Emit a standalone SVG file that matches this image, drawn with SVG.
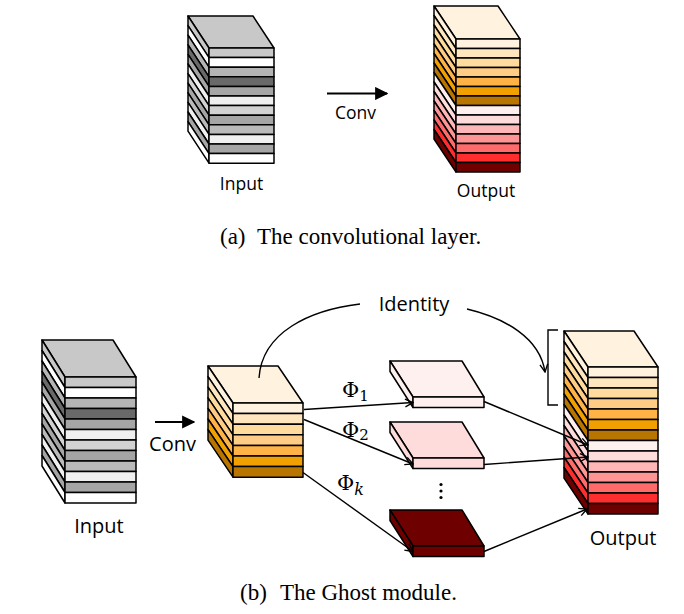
<svg xmlns="http://www.w3.org/2000/svg" width="684" height="614" viewBox="0 0 684 614">
<style>
.s{stroke:#000;stroke-width:1.5;stroke-linejoin:round}
.lbl{font-family:"Open Sans","DejaVu Sans",sans-serif;fill:#000;text-anchor:middle}
.cap{font-family:"Liberation Serif","Times New Roman",serif;font-size:23px;fill:#000}
.phi{font-family:"DejaVu Serif","Liberation Serif",serif;font-size:21px;fill:#000}
.c{fill:none;stroke:#000;stroke-width:1.4}
.g0{fill:#c8c8c8}.g1{fill:#ffffff}.g2{fill:#b4b4b4}.g3{fill:#696969}.g4{fill:#a6a6a6}.g5{fill:#efefef}
.g6{fill:#d2d2d2}.g7{fill:#a5a5a5}.g8{fill:#bababa}.g9{fill:#f0f0f0}
.o0{fill:#fff3e0}.o1{fill:#ffe6bf}.o2{fill:#ffdc9e}.o3{fill:#ffcc85}.o4{fill:#ffb347}.o5{fill:#f0a000}.o6{fill:#b87600}
.r0{fill:#fff0f0}.r1{fill:#ffdcdc}.r2{fill:#ffb6b6}.r3{fill:#ff9494}.r4{fill:#ff6b6b}.r5{fill:#ff2e2e}.r6{fill:#6e0000}
</style>
<defs>
<marker id="fa" viewBox="0 0 10 10" refX="9" refY="5" markerWidth="6" markerHeight="6" markerUnits="strokeWidth" orient="auto">
<path d="M0,0 L10,5 L0,10 Z" fill="#000"/>
</marker>
<marker id="oa" viewBox="0 0 10 10" refX="9" refY="5" markerWidth="7" markerHeight="7" markerUnits="strokeWidth" orient="auto">
<path d="M1,1 L9,5 L1,9" fill="none" stroke="#000" stroke-width="1.4"/>
</marker>
</defs>

<g id="a-input">
<g class="s">
<polygon class="g0" points="188,16 253,16 274,48 209,48"/>
<polygon class="g0" points="209,48 209,57.6 188,25.6 188,16"/>
<polygon class="g1" points="209,57.6 209,67.2 188,35.2 188,25.6"/>
<polygon class="g2" points="209,67.2 209,76.8 188,44.8 188,35.2"/>
<polygon class="g3" points="209,76.8 209,86.4 188,54.4 188,44.8"/>
<polygon class="g4" points="209,86.4 209,96 188,64 188,54.4"/>
<polygon class="g5" points="209,96 209,105.6 188,73.6 188,64"/>
<polygon class="g6" points="209,105.6 209,115.2 188,83.2 188,73.6"/>
<polygon class="g7" points="209,115.2 209,124.8 188,92.8 188,83.2"/>
<polygon class="g8" points="209,124.8 209,134.4 188,102.4 188,92.8"/>
<polygon class="g9" points="209,134.4 209,144 188,112 188,102.4"/>
<polygon class="g7" points="209,144 209,153.6 188,121.6 188,112"/>
<polygon class="g1" points="209,153.6 209,163.2 188,131.2 188,121.6"/>
<rect class="g0" x="209" y="48" width="65" height="9.6"/>
<rect class="g1" x="209" y="57.6" width="65" height="9.6"/>
<rect class="g2" x="209" y="67.2" width="65" height="9.6"/>
<rect class="g3" x="209" y="76.8" width="65" height="9.6"/>
<rect class="g4" x="209" y="86.4" width="65" height="9.6"/>
<rect class="g5" x="209" y="96" width="65" height="9.6"/>
<rect class="g6" x="209" y="105.6" width="65" height="9.6"/>
<rect class="g7" x="209" y="115.2" width="65" height="9.6"/>
<rect class="g8" x="209" y="124.8" width="65" height="9.6"/>
<rect class="g9" x="209" y="134.4" width="65" height="9.6"/>
<rect class="g7" x="209" y="144" width="65" height="9.6"/>
<rect class="g1" x="209" y="153.6" width="65" height="9.6"/>
</g>
<text class="lbl" x="241.5" y="190" font-size="17.5">Input</text>
</g>

<g id="a-output">
<g class="s">
<polygon class="o0" points="434,6 498,6 520,39 456,39"/>
<polygon class="o0" points="456,39 456,48.5 434,15.5 434,6"/>
<polygon class="o1" points="456,48.5 456,58 434,25 434,15.5"/>
<polygon class="o2" points="456,58 456,67.5 434,34.5 434,25"/>
<polygon class="o3" points="456,67.5 456,77 434,44 434,34.5"/>
<polygon class="o4" points="456,77 456,86.5 434,53.5 434,44"/>
<polygon class="o5" points="456,86.5 456,96 434,63 434,53.5"/>
<polygon class="o6" points="456,96 456,105.5 434,72.5 434,63"/>
<polygon class="r0" points="456,105.5 456,115 434,82 434,72.5"/>
<polygon class="r1" points="456,115 456,124.5 434,91.5 434,82"/>
<polygon class="r2" points="456,124.5 456,134 434,101 434,91.5"/>
<polygon class="r3" points="456,134 456,143.5 434,110.5 434,101"/>
<polygon class="r4" points="456,143.5 456,153 434,120 434,110.5"/>
<polygon class="r5" points="456,153 456,162.5 434,129.5 434,120"/>
<polygon class="r6" points="456,162.5 456,172 434,139 434,129.5"/>
<rect class="o0" x="456" y="39" width="64" height="9.5"/>
<rect class="o1" x="456" y="48.5" width="64" height="9.5"/>
<rect class="o2" x="456" y="58" width="64" height="9.5"/>
<rect class="o3" x="456" y="67.5" width="64" height="9.5"/>
<rect class="o4" x="456" y="77" width="64" height="9.5"/>
<rect class="o5" x="456" y="86.5" width="64" height="9.5"/>
<rect class="o6" x="456" y="96" width="64" height="9.5"/>
<rect class="r0" x="456" y="105.5" width="64" height="9.5"/>
<rect class="r1" x="456" y="115" width="64" height="9.5"/>
<rect class="r2" x="456" y="124.5" width="64" height="9.5"/>
<rect class="r3" x="456" y="134" width="64" height="9.5"/>
<rect class="r4" x="456" y="143.5" width="64" height="9.5"/>
<rect class="r5" x="456" y="153" width="64" height="9.5"/>
<rect class="r6" x="456" y="162.5" width="64" height="9.5"/>
</g>
<text class="lbl" x="486" y="196.5" font-size="17.5">Output</text>
</g>

<g id="b-input">
<g class="s">
<polygon class="g0" points="42,340 113,340 136,377 65,377"/>
<polygon class="g0" points="65,377 65,387.5 42,350.5 42,340"/>
<polygon class="g1" points="65,387.5 65,398 42,361 42,350.5"/>
<polygon class="g2" points="65,398 65,408.5 42,371.5 42,361"/>
<polygon class="g3" points="65,408.5 65,419 42,382 42,371.5"/>
<polygon class="g4" points="65,419 65,429.5 42,392.5 42,382"/>
<polygon class="g5" points="65,429.5 65,440 42,403 42,392.5"/>
<polygon class="g6" points="65,440 65,450.5 42,413.5 42,403"/>
<polygon class="g7" points="65,450.5 65,461 42,424 42,413.5"/>
<polygon class="g8" points="65,461 65,471.5 42,434.5 42,424"/>
<polygon class="g9" points="65,471.5 65,482 42,445 42,434.5"/>
<polygon class="g7" points="65,482 65,492.5 42,455.5 42,445"/>
<polygon class="g1" points="65,492.5 65,503 42,466 42,455.5"/>
<rect class="g0" x="65" y="377" width="71" height="10.5"/>
<rect class="g1" x="65" y="387.5" width="71" height="10.5"/>
<rect class="g2" x="65" y="398" width="71" height="10.5"/>
<rect class="g3" x="65" y="408.5" width="71" height="10.5"/>
<rect class="g4" x="65" y="419" width="71" height="10.5"/>
<rect class="g5" x="65" y="429.5" width="71" height="10.5"/>
<rect class="g6" x="65" y="440" width="71" height="10.5"/>
<rect class="g7" x="65" y="450.5" width="71" height="10.5"/>
<rect class="g8" x="65" y="461" width="71" height="10.5"/>
<rect class="g9" x="65" y="471.5" width="71" height="10.5"/>
<rect class="g7" x="65" y="482" width="71" height="10.5"/>
<rect class="g1" x="65" y="492.5" width="71" height="10.5"/>
</g>
<text class="lbl" x="99" y="533" font-size="20">Input</text>
</g>

<g id="b-intrinsic">
<g class="s">
<polygon class="o0" points="208,366 278,366 303,403 233,403"/>
<polygon class="o0" points="233,403 233,413.6 208,376.6 208,366"/>
<polygon class="o1" points="233,413.6 233,424.2 208,387.2 208,376.6"/>
<polygon class="o2" points="233,424.2 233,434.8 208,397.8 208,387.2"/>
<polygon class="o3" points="233,434.8 233,445.4 208,408.4 208,397.8"/>
<polygon class="o4" points="233,445.4 233,456 208,419 208,408.4"/>
<polygon class="o5" points="233,456 233,466.6 208,429.6 208,419"/>
<polygon class="o6" points="233,466.6 233,477.2 208,440.2 208,429.6"/>
<rect class="o0" x="233" y="403" width="70" height="10.6"/>
<rect class="o1" x="233" y="413.6" width="70" height="10.6"/>
<rect class="o2" x="233" y="424.2" width="70" height="10.6"/>
<rect class="o3" x="233" y="434.8" width="70" height="10.6"/>
<rect class="o4" x="233" y="445.4" width="70" height="10.6"/>
<rect class="o5" x="233" y="456" width="70" height="10.6"/>
<rect class="o6" x="233" y="466.6" width="70" height="10.6"/>
</g>
</g>

<g id="b-ghost1" class="s">
<polygon class="r0" points="390,361 462,361 484,397 413,397"/>
<polygon class="r0" points="390,361 413,397 413,407.5 390,371.5"/>
<rect class="r0" x="413" y="397" width="71" height="10.5"/>
</g>
<g id="b-ghost2" class="s">
<polygon class="r1" points="390,422 462,422 484,458 413,458"/>
<polygon class="r1" points="390,422 413,458 413,468.5 390,432.5"/>
<rect class="r1" x="413" y="458" width="71" height="10.5"/>
</g>
<g id="b-ghostk" class="s">
<polygon class="r6" points="390,510 462,510 484,546 413,546"/>
<polygon class="r6" points="390,510 413,546 413,556.5 390,520.5"/>
<rect class="r6" x="413" y="546" width="71" height="10.5"/>
</g>
<g id="b-dots" fill="#000">
<circle cx="441" cy="484.5" r="1.6"/>
<circle cx="441" cy="491" r="1.6"/>
<circle cx="441" cy="497.5" r="1.6"/>
</g>

<g id="b-output">
<g class="s">
<polygon class="o0" points="564,331 634,331 658,367 588,367"/>
<polygon class="o0" points="588,367 588,377.5 564,341.5 564,331"/>
<polygon class="o1" points="588,377.5 588,388 564,352 564,341.5"/>
<polygon class="o2" points="588,388 588,398.5 564,362.5 564,352"/>
<polygon class="o3" points="588,398.5 588,409 564,373 564,362.5"/>
<polygon class="o4" points="588,409 588,419.5 564,383.5 564,373"/>
<polygon class="o5" points="588,419.5 588,430 564,394 564,383.5"/>
<polygon class="o6" points="588,430 588,440.5 564,404.5 564,394"/>
<polygon class="r0" points="588,440.5 588,451 564,415 564,404.5"/>
<polygon class="r1" points="588,451 588,461.5 564,425.5 564,415"/>
<polygon class="r2" points="588,461.5 588,472 564,436 564,425.5"/>
<polygon class="r3" points="588,472 588,482.5 564,446.5 564,436"/>
<polygon class="r4" points="588,482.5 588,493 564,457 564,446.5"/>
<polygon class="r5" points="588,493 588,503.5 564,467.5 564,457"/>
<polygon class="r6" points="588,503.5 588,514 564,478 564,467.5"/>
<rect class="o0" x="588" y="367" width="70" height="10.5"/>
<rect class="o1" x="588" y="377.5" width="70" height="10.5"/>
<rect class="o2" x="588" y="388" width="70" height="10.5"/>
<rect class="o3" x="588" y="398.5" width="70" height="10.5"/>
<rect class="o4" x="588" y="409" width="70" height="10.5"/>
<rect class="o5" x="588" y="419.5" width="70" height="10.5"/>
<rect class="o6" x="588" y="430" width="70" height="10.5"/>
<rect class="r0" x="588" y="440.5" width="70" height="10.5"/>
<rect class="r1" x="588" y="451" width="70" height="10.5"/>
<rect class="r2" x="588" y="461.5" width="70" height="10.5"/>
<rect class="r3" x="588" y="472" width="70" height="10.5"/>
<rect class="r4" x="588" y="482.5" width="70" height="10.5"/>
<rect class="r5" x="588" y="493" width="70" height="10.5"/>
<rect class="r6" x="588" y="503.5" width="70" height="10.5"/>
</g>
<text class="lbl" x="623" y="545" font-size="20">Output</text>
</g>

<g id="b-bracket">
<path d="M558,330 H548 V405 H558" fill="none" stroke="#000" stroke-width="1.4"/>
</g>

<g id="connectors">
<line x1="327" y1="93.5" x2="387" y2="93.5" stroke="#000" stroke-width="2.2" marker-end="url(#fa)"/>
<line x1="155" y1="422" x2="194" y2="422" stroke="#000" stroke-width="2.2" marker-end="url(#fa)"/>
<path class="c" d="M259,378 C262,332 310,310 360,304"/>
<path class="c" d="M467,309 C505,318 540,338 545,372" marker-end="url(#oa)"/>
<line class="c" x1="304" y1="409.5" x2="413" y2="402.5" marker-end="url(#oa)"/>
<line class="c" x1="304" y1="419.5" x2="413" y2="464" marker-end="url(#oa)"/>
<line class="c" x1="303" y1="472.5" x2="413" y2="551.5" marker-end="url(#oa)"/>
<line class="c" x1="484" y1="401.5" x2="588" y2="445" marker-end="url(#oa)"/>
<line class="c" x1="484" y1="464.5" x2="588" y2="457" marker-end="url(#oa)"/>
<line class="c" x1="484" y1="551.5" x2="587" y2="509" marker-end="url(#oa)"/>
</g>

<g id="labels">
<text class="lbl" x="355.5" y="118.5" font-size="17.5">Conv</text>
<text class="lbl" x="172.5" y="451" font-size="20">Conv</text>
<text class="lbl" x="414" y="311" font-size="20">Identity</text>
<text class="phi" x="342" y="397">Φ<tspan font-size="15" dy="4">1</tspan></text>
<text class="phi" x="342" y="437">Φ<tspan font-size="15" dy="3">2</tspan></text>
<text class="phi" x="337" y="490">Φ<tspan font-size="16" font-style="italic" dy="5">k</tspan></text>
<text class="cap" y="244"><tspan x="220">(a)</tspan><tspan x="257">The convolutional layer.</tspan></text>
<text class="cap" y="600"><tspan x="240">(b)</tspan><tspan x="280">The Ghost module.</tspan></text>
</g>
</svg>
